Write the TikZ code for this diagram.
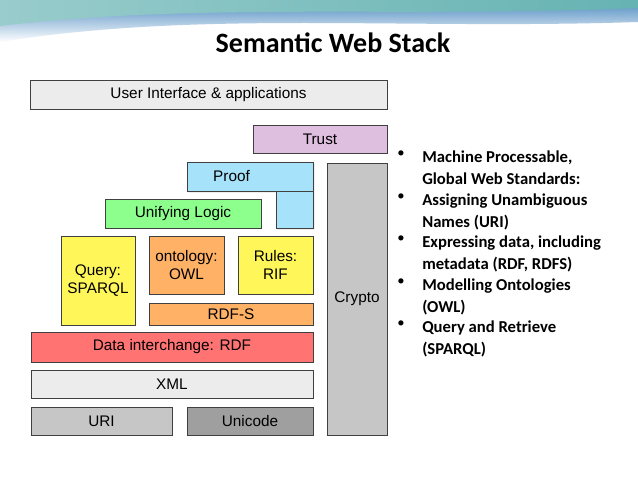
\documentclass[tikz,border=0pt]{standalone}
\usepackage{fontspec}
\setmainfont{Liberation Sans}
\newfontfamily\calfont{Carlito}
\usetikzlibrary{shadows}
\begin{document}
\begin{tikzpicture}[x=0.75pt,y=-0.75pt,
  blk/.style={draw=black!75,line width=0.6pt,drop shadow={shadow xshift=1pt,shadow yshift=-1pt,opacity=0.35}},
  lbl/.style={font=\fontsize{11.5}{13.5}\selectfont,align=center},
  bul/.style={font=\calfont\bfseries\fontsize{12.5}{16}\selectfont,anchor=north west,inner sep=0pt}]
\useasboundingbox (0,0) rectangle (638,478);
\fill[white] (0,0) rectangle (638,478);
% header swoosh
\shade[top color=teal!70!blue!70,bottom color=white] (0,0) -- (638,0) -- (638,22) .. controls (400,30) and (200,10) .. (0,42) -- cycle;
\shade[left color=teal!40,right color=teal!60] (0,0) -- (638,0) -- (638,8) .. controls (400,18) and (200,2) .. (0,26) -- cycle;
\node[font=\calfont\bfseries\fontsize{21}{24}\selectfont] (title) at (333,43) {Semantic Web Stack};
% stack
\path[blk,fill=gray!15] (30,80) rectangle (387,109);
\node[lbl] (ui) at (208.5,94.5) {User Interface \& applications};
\path[blk,fill=violet!25!white] (253,125) rectangle (387,153);
\node[lbl] (trust) at (320,139) {Trust};
\path[blk,fill=gray!45] (327,163) rectangle (387,435);
\node[lbl] (crypto) at (357,299) {Crypto};
\path[blk,fill=cyan!35] (187,162) -- (313,162) -- (313,228) -- (276,228) -- (276,191) -- (187,191) -- cycle;
\draw[black!75,line width=0.6pt] (276,191) -- (313,191);
\node[lbl] (proof) at (231.5,176.5) {Proof};
\path[blk,fill=green!45!white] (105,199) rectangle (261,228);
\node[lbl] (logic) at (183,213.5) {Unifying Logic};
\path[blk,fill=yellow!65!white] (61,236) rectangle (135,325);
\node[lbl] (query) at (98,280.5) {Query:\\SPARQL};
\path[blk,fill=orange!60!white] (149,236) rectangle (224,294);
\node[lbl] (owl) at (186.5,265) {ontology:\\OWL};
\path[blk,fill=yellow!65!white] (238,236) rectangle (313,294);
\node[lbl] (rif) at (275.5,265) {Rules:\\RIF};
\path[blk,fill=orange!60!white] (149,303) rectangle (313,325);
\node[lbl] (rdfs) at (231,314) {RDF-S};
\path[blk,fill=red!55!white] (31,332) rectangle (313,362);
\node[lbl] (rdf) at (172,347) {Data interchange: RDF};
\path[blk,fill=gray!15] (31,370) rectangle (313,398);
\node[lbl] (xml) at (172,384) {XML};
\path[blk,fill=gray!45] (31,407) rectangle (172,435);
\node[lbl] (uri) at (101.5,421) {URI};
\path[blk,fill=gray!75] (187,407) rectangle (313,435);
\node[lbl] (unicode) at (250,421) {Unicode};
% bullets
\foreach \y/\t in {151/{Machine Processable,\\Global Web Standards:},194/{Assigning Unambiguous\\Names (URI)},236/{Expressing data, including\\metadata (RDF, RDFS)},279/{Modelling Ontologies\\(OWL)},321/{Query and Retrieve\\(SPARQL)}}{
  \node[bul,font=\calfont\fontsize{11}{16}\selectfont] at (397,\y) {•};
  \node[bul,align=left] at (422,\y) {\t};
}
\end{tikzpicture}
\end{document}
